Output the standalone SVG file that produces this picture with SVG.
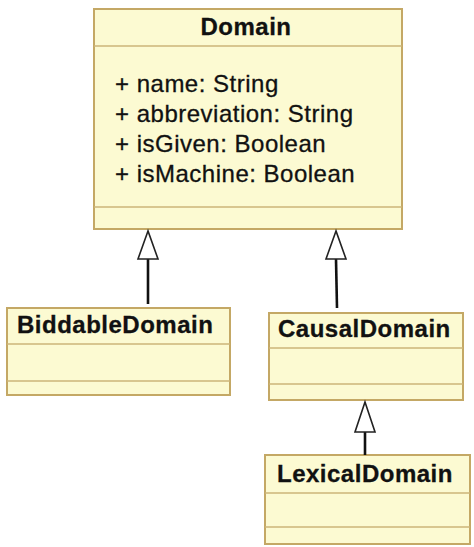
<svg xmlns="http://www.w3.org/2000/svg" width="474" height="547" viewBox="0 0 474 547">
<style>
.box{fill:#fcfad2;stroke:#c4a865;stroke-width:2}
.div{stroke:#cdb578;stroke-width:1.6}
.t{font-family:"Liberation Sans",Arial,sans-serif;font-size:24px;letter-spacing:0.5px;fill:#111;stroke:#111;stroke-width:0.3}
.b{font-weight:bold}
.edge{stroke:#111;stroke-width:2.6;fill:none}
.head{fill:#fff;stroke:#222;stroke-width:1.6}
</style>
<rect width="474" height="547" fill="#fff"/>
<g id="Domain">
<rect class="box" x="94" y="9" width="308" height="220"/>
<line class="div" x1="94" y1="46" x2="402" y2="46"/>
<line class="div" x1="94" y1="207" x2="402" y2="207"/>
<text class="t b" x="246" y="35" text-anchor="middle">Domain</text>
<text class="t" x="115" y="92">+ name: String</text>
<text class="t" x="115" y="122">+ abbreviation: String</text>
<text class="t" x="115" y="152">+ isGiven: Boolean</text>
<text class="t" x="115" y="182">+ isMachine: Boolean</text>
</g>
<g id="BiddableDomain">
<rect class="box" x="7" y="308" width="223" height="87"/>
<line class="div" x1="7" y1="344" x2="230" y2="344"/>
<line class="div" x1="7" y1="381" x2="230" y2="381"/>
<text class="t b" x="17" y="333">BiddableDomain</text>
</g>
<g id="CausalDomain">
<rect class="box" x="269" y="313" width="194" height="87"/>
<line class="div" x1="269" y1="348" x2="463" y2="348"/>
<line class="div" x1="269" y1="384" x2="463" y2="384"/>
<text class="t b" x="278" y="337">CausalDomain</text>
</g>
<g id="LexicalDomain">
<rect class="box" x="265" y="455" width="205" height="89"/>
<line class="div" x1="265" y1="493" x2="470" y2="493"/>
<line class="div" x1="265" y1="527" x2="470" y2="527"/>
<text class="t b" x="277" y="482">LexicalDomain</text>
</g>
<g id="connectors">
<line class="edge" x1="148" y1="259" x2="148" y2="304"/>
<polygon class="head" points="148,231 138,259 158,259"/>
<line class="edge" x1="336" y1="259" x2="337" y2="308"/>
<polygon class="head" points="336,231 326,259 346,259"/>
<line class="edge" x1="365" y1="432" x2="365" y2="455"/>
<polygon class="head" points="365,402 355,432 375,432"/>
</g>
</svg>
